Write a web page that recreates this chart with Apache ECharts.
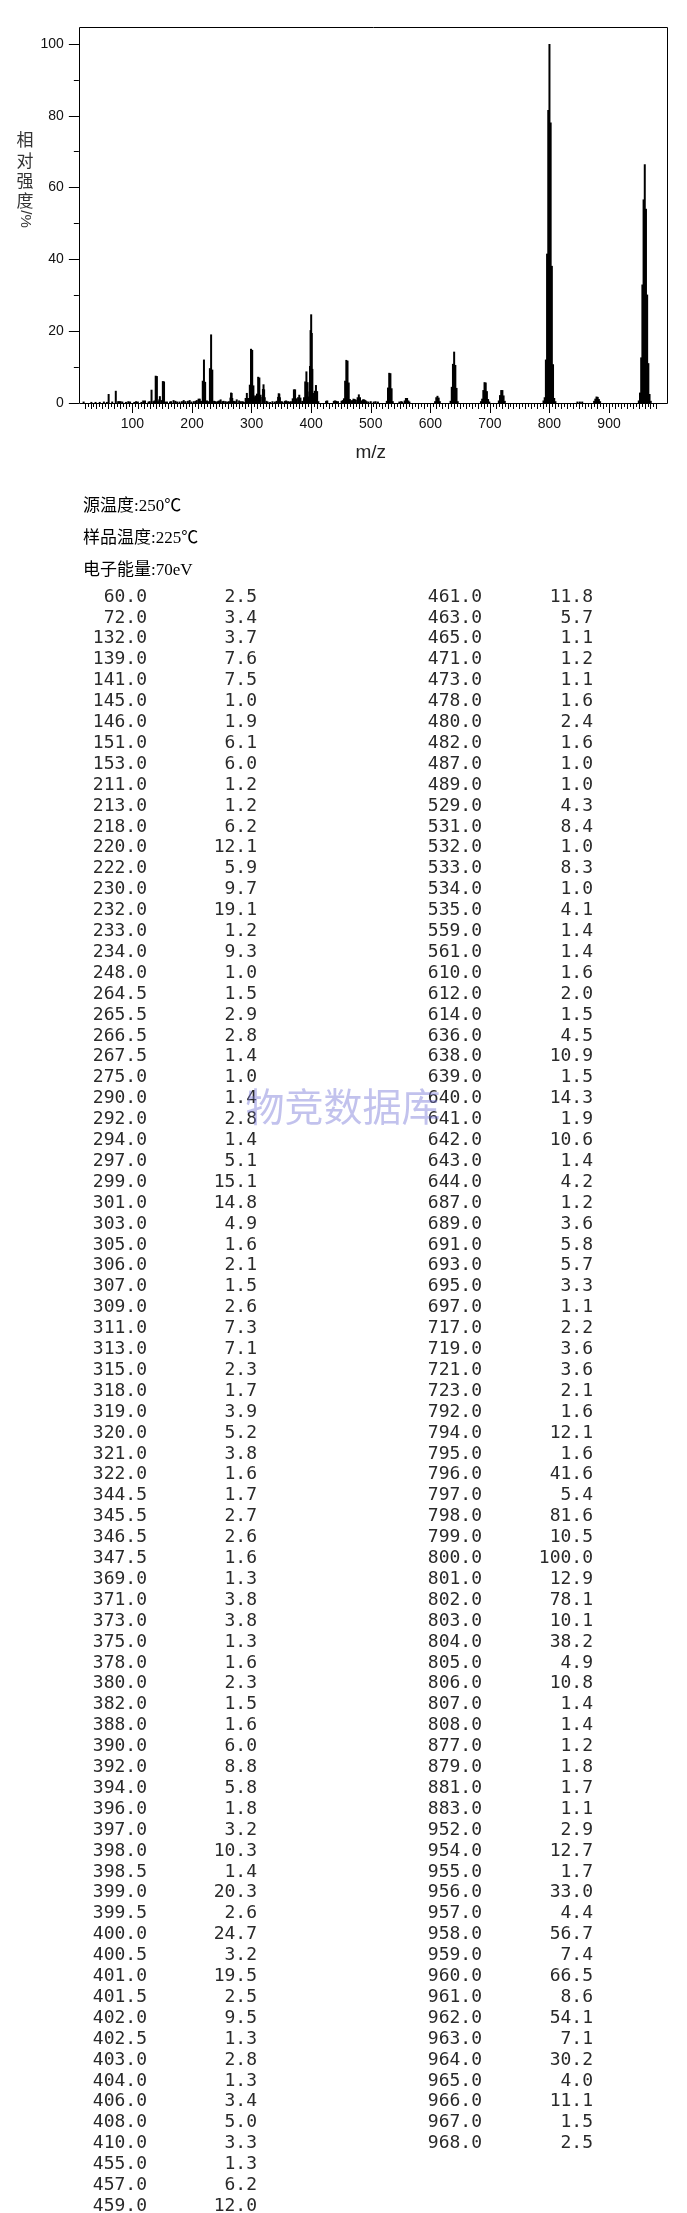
<!DOCTYPE html>
<html>
<head>
<meta charset="utf-8">
<script src="https://cdn.jsdelivr.net/npm/echarts@6/dist/echarts.min.js"></script>
<style>
html,body{margin:0;padding:0;background:#fff;}
#c{width:687px;height:2213px;}
</style>
</head>
<body>
<div id="c"></div>
<script>
// ---- DATA ----
const mzValues = [
  60.0, 72.0, 132.0, 139.0, 141.0, 145.0, 146.0, 151.0, 153.0, 211.0,
  213.0, 218.0, 220.0, 222.0, 230.0, 232.0, 233.0, 234.0, 248.0, 264.5,
  265.5, 266.5, 267.5, 275.0, 290.0, 292.0, 294.0, 297.0, 299.0, 301.0,
  303.0, 305.0, 306.0, 307.0, 309.0, 311.0, 313.0, 315.0, 318.0, 319.0,
  320.0, 321.0, 322.0, 344.5, 345.5, 346.5, 347.5, 369.0, 371.0, 373.0,
  375.0, 378.0, 380.0, 382.0, 388.0, 390.0, 392.0, 394.0, 396.0, 397.0,
  398.0, 398.5, 399.0, 399.5, 400.0, 400.5, 401.0, 401.5, 402.0, 402.5,
  403.0, 404.0, 406.0, 408.0, 410.0, 455.0, 457.0, 459.0,
  461.0, 463.0, 465.0, 471.0, 473.0, 478.0, 480.0, 482.0, 487.0, 489.0,
  529.0, 531.0, 532.0, 533.0, 534.0, 535.0, 559.0, 561.0, 610.0, 612.0,
  614.0, 636.0, 638.0, 639.0, 640.0, 641.0, 642.0, 643.0, 644.0, 687.0,
  689.0, 691.0, 693.0, 695.0, 697.0, 717.0, 719.0, 721.0, 723.0, 792.0,
  794.0, 795.0, 796.0, 797.0, 798.0, 799.0, 800.0, 801.0, 802.0, 803.0,
  804.0, 805.0, 806.0, 807.0, 808.0, 877.0, 879.0, 881.0, 883.0, 952.0,
  954.0, 955.0, 956.0, 957.0, 958.0, 959.0, 960.0, 961.0, 962.0, 963.0,
  964.0, 965.0, 966.0, 967.0, 968.0
];
const intensities = [
  2.5, 3.4, 3.7, 7.6, 7.5, 1.0, 1.9, 6.1, 6.0, 1.2,
  1.2, 6.2, 12.1, 5.9, 9.7, 19.1, 1.2, 9.3, 1.0, 1.5,
  2.9, 2.8, 1.4, 1.0, 1.4, 2.8, 1.4, 5.1, 15.1, 14.8,
  4.9, 1.6, 2.1, 1.5, 2.6, 7.3, 7.1, 2.3, 1.7, 3.9,
  5.2, 3.8, 1.6, 1.7, 2.7, 2.6, 1.6, 1.3, 3.8, 3.8,
  1.3, 1.6, 2.3, 1.5, 1.6, 6.0, 8.8, 5.8, 1.8, 3.2,
  10.3, 1.4, 20.3, 2.6, 24.7, 3.2, 19.5, 2.5, 9.5, 1.3,
  2.8, 1.3, 3.4, 5.0, 3.3, 1.3, 6.2, 12.0,
  11.8, 5.7, 1.1, 1.2, 1.1, 1.6, 2.4, 1.6, 1.0, 1.0,
  4.3, 8.4, 1.0, 8.3, 1.0, 4.1, 1.4, 1.4, 1.6, 2.0,
  1.5, 4.5, 10.9, 1.5, 14.3, 1.9, 10.6, 1.4, 4.2, 1.2,
  3.6, 5.8, 5.7, 3.3, 1.1, 2.2, 3.6, 3.6, 2.1, 1.6,
  12.1, 1.6, 41.6, 5.4, 81.6, 10.5, 100.0, 12.9, 78.1, 10.1,
  38.2, 4.9, 10.8, 1.4, 1.4, 1.2, 1.8, 1.7, 1.1, 2.9,
  12.7, 1.7, 33.0, 4.4, 56.7, 7.4, 66.5, 8.6, 54.1, 7.1,
  30.2, 4.0, 11.1, 1.5, 2.5
];
// small peaks (<1 %) visible in the spectrum but not listed in the table (estimated)
const minorMz = [
  18, 31, 38, 45, 52, 57, 66, 76, 78, 80, 83, 89, 93, 96, 103, 106, 109, 115, 118, 121,
  127, 129, 135, 137, 143, 149, 155, 158, 163, 165, 169, 172, 175, 179, 183, 186, 189, 193, 196, 199,
  203, 206, 208, 215, 225, 227, 237, 239, 242, 244, 246, 251, 253, 256, 259, 262, 270, 272, 279, 282,
  285, 287, 325, 327, 331, 335, 339, 342, 350, 352, 356, 358, 361, 363, 366, 385, 412, 425, 427, 438,
  440, 442, 445, 451, 453, 467, 469, 475, 484, 485, 491, 493, 496, 500, 505, 508, 512, 527, 537, 548,
  551, 553, 557, 563, 565, 608, 616, 634, 646, 685, 699, 715, 725, 790, 810, 847, 851, 855, 875, 885,
  950, 970
];
const minorIntensities = [
  0.4, 0.3, 0.3, 0.3, 0.4, 0.3, 0.4, 0.5, 0.5, 0.5, 0.4, 0.3, 0.5, 0.4, 0.3, 0.5, 0.4, 0.3, 0.7, 0.7,
  0.4, 0.5, 0.5, 0.7, 0.5, 0.8, 0.4, 0.4, 0.4, 0.5, 0.8, 0.6, 0.4, 0.4, 0.5, 0.8, 0.5, 0.6, 0.8, 0.4,
  0.5, 0.6, 0.8, 0.6, 0.7, 0.5, 0.6, 0.5, 0.4, 0.6, 0.7, 0.5, 0.6, 0.5, 0.4, 0.5, 0.6, 0.5, 0.7, 0.5,
  0.5, 0.3, 0.6, 0.4, 0.3, 0.5, 0.4, 0.6, 0.5, 0.4, 0.6, 0.7, 0.5, 0.4, 0.5, 0.6, 0.5, 0.6, 0.7, 0.6,
  0.7, 0.6, 0.5, 0.6, 0.8, 0.7, 0.8, 0.9, 0.7, 0.6, 0.8, 0.5, 0.4, 0.5, 0.4, 0.5, 0.4, 0.6, 0.5, 0.4,
  0.5, 0.4, 0.7, 0.7, 0.4, 0.5, 0.5, 0.6, 0.5, 0.5, 0.4, 0.7, 0.6, 0.7, 0.5, 0.4, 0.4, 0.4, 0.6, 0.5,
  0.7, 0.6
];
const headerLines = ['源温度:250℃', '样品温度:225℃', '电子能量:70eV'];
const yAxisTitleChars = ['相', '对', '强', '度'];
const yAxisTitleTail = '/%';
const xAxisTitle = 'm/z';
const watermarkText = '物竞数据库';

// ---- LAYOUT ----
const X0 = 72.9, PX = 0.5957;          // pixel of m/z 0 and px per m/z unit
const gx = v => X0 + v * PX;
const PLOT_TOP = 44, PLOT_H = 359;      // y=100 at 44, y=0 at 403
const LEFT_ROWS = 78;
const ROW0 = 597, ROW_H = 20.9;
const COLS = [147, 257, 482, 593];

const chart = echarts.init(document.getElementById('c'), null, {renderer: 'canvas'});

const barData = mzValues.map((m, i) => [m, intensities[i]])
  .concat(minorMz.map((m, i) => [m, minorIntensities[i]]));

const tickGrid = (min, max) => ({left: gx(min), width: (max - min) * PX, top: PLOT_TOP, height: PLOT_H});
const hiddenAxis = (gi) => ({type: 'value', gridIndex: gi, show: false, min: 0, max: 100});

const labelFont = {fontFamily: '"Liberation Sans", Arial, sans-serif', fontSize: 14, color: '#111'};

const graphics = [];
// header lines
headerLines.forEach((t, i) => {
  graphics.push({type: 'text', x: 83, y: [507, 539, 571][i],
    style: {text: t, font: '17px "Liberation Serif", "Noto Sans CJK SC", serif', fill: '#000',
      textAlign: 'left', textVerticalAlign: 'middle'}});
});
// table
mzValues.forEach((m, i) => {
  const right = i >= LEFT_ROWS;
  const r = right ? i - LEFT_ROWS : i;
  const y = ROW0 + r * ROW_H;
  const cx = right ? [COLS[2], COLS[3]] : [COLS[0], COLS[1]];
  const font = '18px "DejaVu Sans Mono", monospace';
  graphics.push({type: 'text', x: cx[0], y: y,
    style: {text: m.toFixed(1), font: font, fill: '#2a2a2a', textAlign: 'right', textVerticalAlign: 'middle'}});
  graphics.push({type: 'text', x: cx[1], y: y,
    style: {text: intensities[i].toFixed(1), font: font, fill: '#2a2a2a', textAlign: 'right', textVerticalAlign: 'middle'}});
});
// y-axis title
const ys = [140, 161, 181, 201];
yAxisTitleChars.forEach((ch, i) => {
  graphics.push({type: 'text', x: 25, y: ys[i],
    style: {text: ch, font: '17px "Noto Sans CJK SC", sans-serif', fill: '#333', textAlign: 'center', textVerticalAlign: 'middle'}});
});
graphics.push({type: 'text', x: 25, y: 219, rotation: -Math.PI / 2,
  style: {text: yAxisTitleTail, font: '15px "Liberation Sans", sans-serif', fill: '#333', textAlign: 'center', textVerticalAlign: 'middle'}});
// watermark
graphics.push({type: 'text', x: 343, y: 1106, z: 100,
  style: {text: watermarkText, font: '39px "Noto Sans CJK SC", sans-serif', fill: 'rgba(120,120,215,0.45)',
    textAlign: 'center', textVerticalAlign: 'middle'}});

const option = {
  animation: false,
  backgroundColor: '#fff',
  grid: [
    {left: 79.5, top: 27.5, width: 588, height: 376, show: true, borderColor: '#000', borderWidth: 1, backgroundColor: 'transparent'},
    {left: gx(10), width: 990 * PX, top: PLOT_TOP, height: PLOT_H},
    tickGrid(20, 980),
    tickGrid(20, 980),
    tickGrid(100, 900),
    {left: gx(10), width: 990 * PX, top: PLOT_TOP, height: PLOT_H}
  ],
  xAxis: [
    {type: 'value', gridIndex: 0, show: false, min: 0, max: 1},
    {type: 'value', gridIndex: 1, min: 10, max: 1000, axisLine: {show: false}, axisTick: {show: false},
      axisLabel: {show: false}, splitLine: {show: false}},
    {type: 'value', gridIndex: 2, min: 20, max: 980, interval: 5, axisLine: {show: false},
      axisTick: {show: true, length: 4, lineStyle: {color: '#000', width: 1}}, axisLabel: {show: false}, splitLine: {show: false}},
    {type: 'value', gridIndex: 3, min: 20, max: 980, interval: 10, axisLine: {show: false},
      axisTick: {show: true, length: 6, lineStyle: {color: '#000', width: 1}}, axisLabel: {show: false}, splitLine: {show: false}},
    {type: 'value', gridIndex: 4, min: 100, max: 900, interval: 100, axisLine: {show: false},
      axisTick: {show: true, length: 10, lineStyle: {color: '#000', width: 1}},
      axisLabel: Object.assign({show: true, margin: 14}, labelFont), splitLine: {show: false},
      name: xAxisTitle, nameLocation: 'middle', nameGap: 40,
      nameTextStyle: {fontFamily: '"Liberation Sans", Arial, sans-serif', fontSize: 19, color: '#222'}},
    {type: 'value', gridIndex: 5, show: false, min: 10, max: 1000}
  ],
  yAxis: [
    {type: 'value', gridIndex: 0, show: false, min: 0, max: 1},
    {type: 'value', gridIndex: 1, min: 0, max: 100, interval: 20, axisLine: {show: false},
      axisTick: {show: true, length: 10, lineStyle: {color: '#000', width: 1}},
      axisLabel: Object.assign({show: true, margin: 15}, labelFont), splitLine: {show: false}},
    hiddenAxis(2),
    hiddenAxis(3),
    hiddenAxis(4),
    {type: 'value', gridIndex: 5, min: 0, max: 100, interval: 10, axisLine: {show: false},
      axisTick: {show: true, length: 5, lineStyle: {color: '#000', width: 1}},
      axisLabel: {show: false}, splitLine: {show: false}}
  ],
  series: [{
    type: 'bar',
    xAxisIndex: 1,
    yAxisIndex: 1,
    data: barData,
    barWidth: 2,
    itemStyle: {color: '#000'},
    emphasis: {disabled: true},
    silent: true
  }],
  graphic: graphics
};
chart.setOption(option);
</script>
</body>
</html>
